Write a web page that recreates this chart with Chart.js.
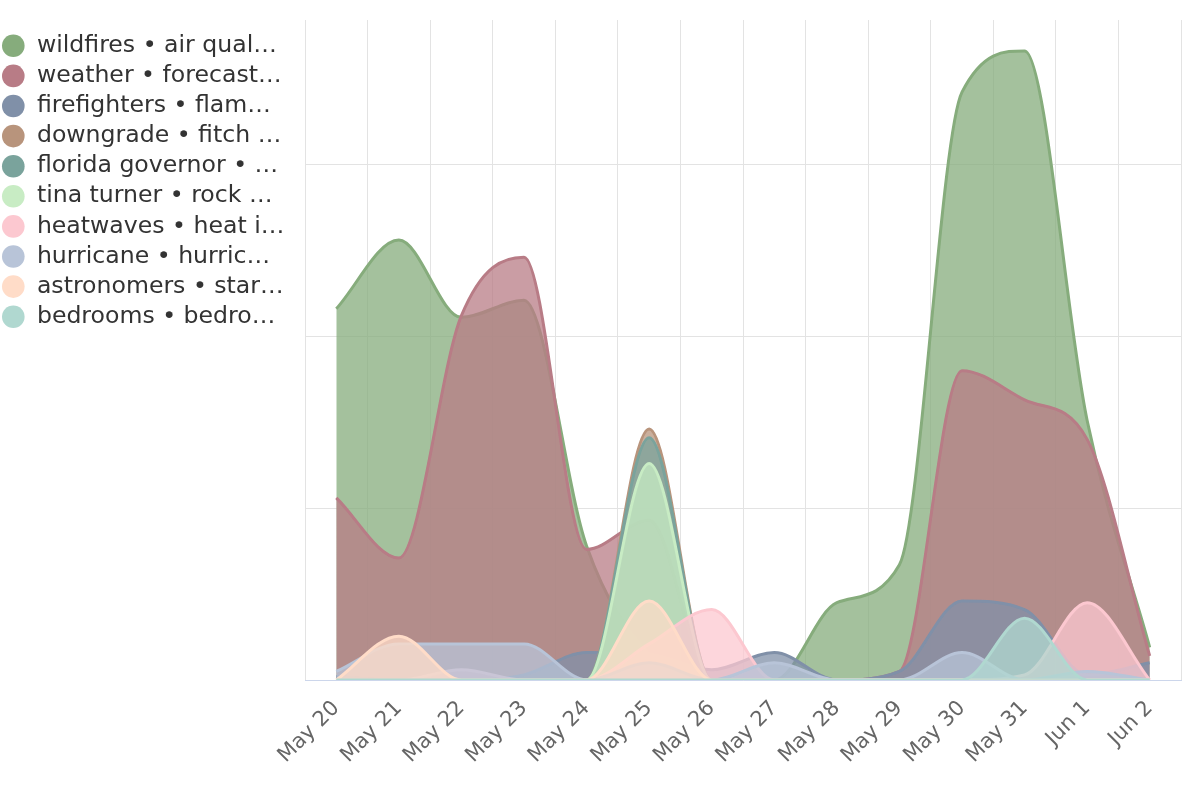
<!DOCTYPE html>
<html>
<head>
<meta charset="utf-8">
<script src="https://cdn.jsdelivr.net/npm/chart.js@4"></script>
<style>
  html, body { margin: 0; padding: 0; background: #fff; }
  #wrap { width: 1200px; height: 800px; }
</style>
</head>
<body>
<div id="wrap"><canvas id="chart"></canvas></div>
<script>
const dates = ["May 20", "May 21", "May 22", "May 23", "May 24", "May 25", "May 26",
               "May 27", "May 28", "May 29", "May 30", "May 31", "Jun 1", "Jun 2"];

const names = [
    "wildfires • air qual…",
    "weather • forecast…",
    "firefighters • flam…",
    "downgrade • fitch …",
    "florida governor • …",
    "tina turner • rock …",
    "heatwaves • heat i…",
    "hurricane • hurric…",
    "astronomers • star…",
    "bedrooms • bedro…"
];

const colors = ["#86ac7c", "#b87c86", "#8090a8", "#b8947c", "#7aa39c",
                "#c8ecc4", "#fcc8d0", "#b8c4d8", "#ffdcc8", "#b0d8d0"];

const wildfires    = [21.6, 25.6, 21.1, 22.1, 7.8, 1.5, 0, 0, 4.5, 6.7, 34.2, 36.6, 15.1, 1.9];
const weather      = [10.6, 7.1, 21.2, 24.6, 7.6, 9.3, 0, 0, 0, 0.5, 18.0, 16.3, 14.0, 1.4];
const firefighters = [0.2, 0, 0, 0.3, 1.6, 1.5, 0.6, 1.6, 0, 0.5, 4.6, 4.1, 0.3, 1.0];
const downgrade    = [0, 0, 0, 0, 0, 14.6, 0, 0, 0, 0, 0, 0, 0, 0];
const florida      = [0, 0, 0, 0, 0, 14.1, 0, 0, 0, 0, 0, 0, 0, 0];
const tinaTurner   = [0, 0, 0, 0, 0, 12.6, 0, 0, 0, 0, 0, 0, 0, 0];
const heatwaves    = [0, 0, 0.6, 0, 0, 2.1, 4.1, 0, 0, 0, 0, 0.3, 4.5, 0];
const hurricane    = [0.5, 2.1, 2.1, 2.1, 0, 1.0, 0, 1.0, 0, 0, 1.6, 0, 0.5, 0];
const astronomers  = [0, 2.55, 0, 0, 0, 4.6, 0, 0, 0, 0, 0, 0, 0, 0];
const bedrooms     = [0, 0, 0, 0, 0, 0, 0, 0, 0, 0, 0, 3.6, 0, 0];

const series = [wildfires, weather, firefighters, downgrade, florida,
                tinaTurner, heatwaves, hurricane, astronomers, bedrooms];

const FONT = "'DejaVu Sans', Verdana, sans-serif";

function fade(hex, a) {
    const n = parseInt(hex.slice(1), 16);
    return "rgba(" + (n >> 16) + "," + ((n >> 8) & 255) + "," + (n & 255) + "," + a + ")";
}

// legend is a fixed width so the plot starts where the reference does
const legendWidth = {
    id: "legendWidth",
    beforeInit(chart) {
        const fit = chart.legend.fit;
        chart.legend.fit = function () {
            fit.call(this);
            this.width = 310;
        };
    }
};

const datasets = series.map((values, i) => ({
    label: names[i],
    data: values,
    borderColor: colors[i],
    backgroundColor: fade(colors[i], 0.75),
    borderWidth: 3,
    fill: "origin",
    pointRadius: 0,
    cubicInterpolationMode: "monotone",
    order: series.length - i   // first series sits at the bottom
}));

new Chart(document.getElementById("chart"), {
    type: "line",
    data: { labels: dates, datasets: datasets },
    plugins: [legendWidth],
    options: {
        responsive: true,
        maintainAspectRatio: false,
        animation: false,
        layout: { padding: { left: -5, top: 20, right: 19, bottom: 0 } },
        plugins: {
            tooltip: { enabled: false },
            legend: {
                position: "left",
                align: "start",
                title: { display: true, text: "", padding: 0, font: { size: 5, lineHeight: 1.5 } },
                labels: {
                    usePointStyle: true,
                    pointStyle: "circle",
                    boxWidth: 24,
                    boxHeight: 16,
                    padding: 6.5,
                    color: "#333333",
                    font: { family: FONT, size: 23.6 },
                    sort: (a, b) => a.datasetIndex - b.datasetIndex,
                    generateLabels(chart) {
                        const items = Chart.defaults.plugins.legend.labels.generateLabels(chart);
                        items.forEach(it => {
                            it.fillStyle = colors[it.datasetIndex];
                            it.strokeStyle = colors[it.datasetIndex];
                            it.lineWidth = 0;
                        });
                        return items;
                    }
                }
            }
        },
        scales: {
            x: {
                offset: true,
                grid: { offset: true, color: "#e3e3e3", drawTicks: false },
                border: { color: "#ccd6eb", width: 1 },
                ticks: {
                    color: "#666666",
                    font: { family: FONT, size: 21 },
                    minRotation: 45,
                    maxRotation: 45,
                    padding: 16
                },
                afterFit(scale) { scale.height = 120; }
            },
            y: {
                min: 0,
                max: 38.4,
                border: { display: false },
                grid: { color: "#e3e3e3", drawTicks: false },
                ticks: { display: false, stepSize: 10 },
                afterBuildTicks(scale) {
                    scale.ticks = scale.ticks.filter(t => t.value % 10 === 0);
                },
                afterFit(scale) { scale.width = 0; }
            }
        }
    }
});
</script>
</body>
</html>
